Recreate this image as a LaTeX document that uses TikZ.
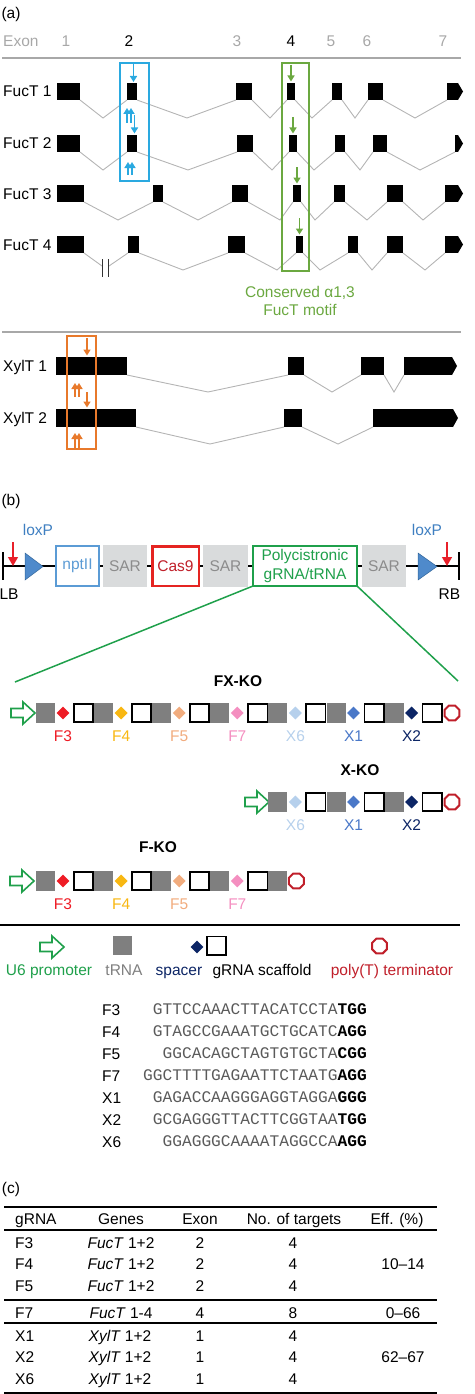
\documentclass[tikz,border=0pt]{standalone}
\usepackage{fontspec}
\setmainfont{Liberation Sans}
\setmonofont{Liberation Mono}
\usetikzlibrary{shapes.geometric,arrows.meta,calc}
\definecolor{cblue}{HTML}{2AA9E0}
\definecolor{cgreen}{HTML}{6BA840}
\definecolor{corange}{HTML}{E8792B}
\definecolor{intr}{HTML}{B4B4B4}
\definecolor{sepg}{HTML}{A8A8A8}
\definecolor{exg}{HTML}{A8A8A8}
\definecolor{lox}{HTML}{3F7FC1}
\definecolor{loxfill}{HTML}{4F8ACB}
\definecolor{npt}{HTML}{5B9BD5}
\definecolor{casr}{HTML}{E52421}
\definecolor{castext}{HTML}{C0202A}
\definecolor{pgreen}{HTML}{1FA04B}
\definecolor{sarg}{HTML}{D9DBDC}
\definecolor{sart}{HTML}{8C8C8C}
\definecolor{trnag}{HTML}{7F7F7F}
\definecolor{term}{HTML}{C01F2A}
\definecolor{redarr}{HTML}{E8202A}
\definecolor{dF3}{HTML}{EE1C25}
\definecolor{dF4}{HTML}{F8B712}
\definecolor{dF5}{HTML}{F1AC7E}
\definecolor{dF7}{HTML}{F48FC0}
\definecolor{dX6}{HTML}{B6D0EC}
\definecolor{dX1}{HTML}{4A78C8}
\definecolor{dX2}{HTML}{0C2565}
\definecolor{seqg}{HTML}{5A5A5A}
\newcommand\fsz{\fontsize{15.5}{18.5}\selectfont}
\newcommand\seqf{\ttfamily\fontsize{16.2}{18}\selectfont}
\newcommand\exn[5]{\node[exonbox, minimum width={(#3-#2)*1pt}, minimum height=#5pt] (#1) at ({(#2+#3)/2},#4) {};}
\newcommand\extip[2]{\fill (#1.north east) -- ([xshift=#2pt]#1.east) -- (#1.south east) -- cycle;}
\newcommand\intr[4]{\draw[intron] (#1.south east) -- (#3,#4) -- (#2.south west);}
\newcommand\uarrow[2]{\draw[pgreen, line width=1.6pt, fill=white, line join=miter] (#1,#2-4.5) -- ++(12,0) -- ++(0,-6.5) -- ++(12,11) -- ++(-12,11) -- ++(0,-6.5) -- ++(-12,0) -- cycle;}
\newcommand\gunit[5]{%
  \node[scaf] (#1s) at ({#2+47.5},#3) {};
  \node[trnabox] (#1t) at ({#2+9.5},#3) {};
  \node[dia, fill=#4] (#1d) at ({#2+27},#3) {};
  \node[tx, text=#4] (#1l) at ({#2+27},#3+23) {#5};}
\begin{document}
\begin{tikzpicture}[x=1pt,y=-1pt,font=\fsz,
  tx/.style={inner sep=0pt, anchor=base, yshift=-5.5pt},
  txw/.style={tx, anchor=base west},
  exonbox/.style={fill=black, inner sep=0pt, outer sep=0pt},
  intron/.style={draw=intr, line width=0.9pt},
  sepline/.style={draw=sepg, line width=1.5pt},
  sarr/.style={line width=1.8pt, -{Triangle[length=6pt,width=7pt]}},
  bbox/.style={inner sep=0pt, outer sep=0pt, minimum height=40pt, align=center},
  trnabox/.style={fill=trnag, minimum width=19pt, minimum height=20pt, inner sep=0pt, outer sep=0pt},
  scaf/.style={draw=black, line width=1.8pt, fill=white, minimum width=19.2pt, minimum height=18.2pt, inner sep=0pt, outer sep=0pt},
  dia/.style={diamond, inner sep=0pt, minimum width=13pt, minimum height=13pt},
  termo/.style={regular polygon, regular polygon sides=8, draw=term, line width=2pt, fill=white, minimum size=16.2pt, inner sep=0pt},
  seq/.style={inner sep=0pt, anchor=base east, yshift=-4.6pt, font=\seqf, text=seqg},
  rule/.style={line width=1.6pt}]
\useasboundingbox (0,0) rectangle (474,1394);

%% ---------------- (a)
\node[tx] (pa) at (11,13) {(a)};
\node[txw, text=exg] (exh) at (3,41) {Exon};
\foreach \x/\n/\c in {66/1/exg,129/2/black,237/3/exg,291/4/black,331/5/exg,367/6/exg,443/7/exg}
  \node[tx, text=\c] (en\n) at (\x,41) {\n};
\coordinate (s1a) at (2,58); \coordinate (s1b) at (461,58);
\draw[sepline] (s1a) -- (s1b);

% FucT 1
\node[txw] (lf1) at (3,91.5) {FucT 1};
\exn{A1}{57}{80}{91.5}{17}\exn{A2}{127}{137}{91.5}{17}\exn{A3}{236}{252}{91.5}{17}
\exn{A4}{287}{295}{91.5}{17}\exn{A5}{332}{342}{91.5}{17}\exn{A6}{368}{383}{91.5}{17}
\exn{A7}{447}{458}{91.5}{17}\extip{A7}{5}
\intr{A1}{A2}{103}{118}\intr{A2}{A3}{187}{118}\intr{A3}{A4}{270}{118}
\intr{A4}{A5}{312}{118}\intr{A5}{A6}{355}{118}\intr{A6}{A7}{415}{118}
% FucT 2
\node[txw] (lf2) at (3,143.5) {FucT 2};
\exn{B1}{57}{80}{143.5}{17}\exn{B2}{127}{137}{143.5}{17}\exn{B3}{237}{253}{143.5}{17}
\exn{B4}{289}{297}{143.5}{17}\exn{B5}{335}{345}{143.5}{17}\exn{B6}{373}{387}{143.5}{17}
\exn{B7}{455}{458}{143.5}{17}\extip{B7}{5}
\intr{B1}{B2}{103}{170}\intr{B2}{B3}{188}{170}\intr{B3}{B4}{272}{170}
\intr{B4}{B5}{314}{170}\intr{B5}{B6}{360}{170}\intr{B6}{B7}{420}{170}
% FucT 3
\node[txw] (lf3) at (3,193.5) {FucT 3};
\exn{C1}{57}{84}{193.5}{17}\exn{C2}{153}{163}{193.5}{17}\exn{C3}{232}{248}{193.5}{17}
\exn{C4}{293}{301}{193.5}{17}\exn{C5}{334}{345}{193.5}{17}\exn{C6}{387}{403}{193.5}{17}
\exn{C7}{445}{458}{193.5}{17}\extip{C7}{5}
\intr{C1}{C2}{118}{220}\intr{C2}{C3}{198}{220}\intr{C3}{C4}{280}{220}
\intr{C4}{C5}{315}{220}\intr{C5}{C6}{367}{220}\intr{C6}{C7}{423}{220}
% FucT 4
\node[txw] (lf4) at (3,244.5) {FucT 4};
\exn{D1}{57}{84}{244.5}{17}\exn{D2}{128}{139}{244.5}{17}\exn{D3}{228}{245}{244.5}{17}
\exn{D4}{296}{303}{244.5}{17}\exn{D5}{348}{358}{244.5}{17}\exn{D6}{387}{403}{244.5}{17}
\exn{D7}{445}{458}{244.5}{17}\extip{D7}{5}
\coordinate (brk1) at (102,266); \coordinate (brk2) at (109,266);
\draw[intron] (D1.south east) -- (brk1);
\draw[intron] (brk2) -- (D2.south west);
\draw[black!80, line width=0.9pt] (102.5,259) -- (102.5,277) (108.5,259) -- (108.5,277);
\intr{D2}{D3}{183}{270}\intr{D3}{D4}{277}{270}
\intr{D4}{D5}{320}{270}\intr{D5}{D6}{372}{270}\intr{D6}{D7}{425}{270}

% boxes
\draw[cblue, line width=1.6pt] (120,63) rectangle (149,181);
\draw[cgreen, line width=1.6pt] (282,63) rectangle (309,271);
% blue arrows
\draw[sarr, cblue] ([xshift=1.5pt,yshift=19pt]A2.north) -- ([xshift=1.5pt,yshift=1pt]A2.north);
\foreach \dx in {-5,-1}
  \draw[sarr, cblue] ([xshift=\dx pt,yshift=-23pt]A2.south) -- ([xshift=\dx pt,yshift=-8pt]A2.south);
\draw[sarr, cblue] ([xshift=2.5pt,yshift=20pt]B2.north) -- ([xshift=2.5pt,yshift=1.5pt]B2.north);
\foreach \dx in {-4,0}
  \draw[sarr, cblue] ([xshift=\dx pt,yshift=-23pt]B2.south) -- ([xshift=\dx pt,yshift=-10pt]B2.south);
% green arrows
\foreach \e in {A4,B4,C4,D4}
  \draw[sarr, cgreen] ([yshift=18pt]\e.north) -- ([yshift=1.5pt]\e.north);
\node[tx, text=cgreen] (cons1) at (300,292) {Conserved α1,3};
\node[tx, text=cgreen] (cons2) at (300,310) {FucT motif};

\coordinate (s2a) at (2,332); \coordinate (s2b) at (461,332);
\draw[sepline] (s2a) -- (s2b);

% XylT 1
\node[txw] (lx1) at (3,366) {XylT 1};
\exn{X1}{56}{127}{366}{18}\exn{X2}{288}{304}{366}{18}\exn{X3}{361}{384}{366}{18}
\exn{X4}{404}{452}{366}{18}\extip{X4}{5}
\intr{X1}{X2}{208}{392}\intr{X2}{X3}{332}{392}\intr{X3}{X4}{394}{392}
% XylT 2
\node[txw] (lx2) at (3,418) {XylT 2};
\exn{Y1}{56}{136}{418}{18}\exn{Y2}{284}{302}{418}{18}
\exn{Y3}{373}{453}{418}{18}\extip{Y3}{5}
\intr{Y1}{Y2}{210}{444}\intr{Y2}{Y3}{338}{444}
% orange
\draw[corange, line width=1.6pt] (67,336) rectangle (96,449);
\draw[sarr, corange] ([xshift=-4.5pt,yshift=19pt]X1.north) -- ([xshift=-4.5pt,yshift=1.5pt]X1.north);
\foreach \dx in {-16.5,-12.5}
  \draw[sarr, corange] ([xshift=\dx pt,yshift=-22pt]X1.south) -- ([xshift=\dx pt,yshift=-8pt]X1.south);
\draw[sarr, corange] ([xshift=-9pt,yshift=17pt]Y1.north) -- ([xshift=-9pt,yshift=1.5pt]Y1.north);
\foreach \dx in {-21,-17}
  \draw[sarr, corange] ([xshift=\dx pt,yshift=-21pt]Y1.south) -- ([xshift=\dx pt,yshift=-6pt]Y1.south);

%% ---------------- (b)
\node[tx] (pb) at (11,500) {(b)};
\coordinate (lbc) at (3,566); \coordinate (rbc) at (459,566);
\draw[line width=1.6pt] (lbc) -- (rbc);
\draw[line width=2.5pt] (3,552) -- (3,580) (459,552) -- (459,580);
\node[tx] (lbt) at (9,594) {LB};
\node[tx] (rbt) at (449.5,594) {RB};
\fill[loxfill, draw=lox!80!black, line width=0.5pt] (25,553) -- (25,580) -- (43,566.5) -- cycle;
\fill[loxfill, draw=lox!80!black, line width=0.5pt] (418,553) -- (418,580) -- (437,566.5) -- cycle;
\node[tx, text=lox] (lox1) at (38,530) {loxP};
\node[tx, text=lox] (lox2) at (427,530) {loxP};
\coordinate (ra1) at (13,542); \coordinate (ra2) at (447,542);
\draw[redarr, line width=1.3pt, -{Triangle[length=9pt,width=10pt]}] (ra1) -- (lbc -| ra1);
\draw[redarr, line width=1.3pt, -{Triangle[length=9pt,width=10pt]}] (ra2) -- (lbc -| ra2);
\node[bbox, draw=npt, line width=2pt, fill=white, minimum width=43pt, text=npt] (npt) at (77.5,566) {nptII};
\node[bbox, fill=sarg, minimum width=44pt, minimum height=42pt, text=sart] (sar1) at (125,566) {SAR};
\node[bbox, draw=casr, line width=2.5pt, fill=white, minimum width=46.5pt, minimum height=39.5pt, text=castext] (cas) at (175.5,566) {Cas9};
\node[bbox, fill=sarg, minimum width=45pt, minimum height=42pt, text=sart] (sar2) at (225.5,566) {SAR};
\node[bbox, draw=pgreen, line width=2pt, fill=white, minimum width=104pt, text=pgreen] (poly) at (305,566) {Polycistronic\\gRNA/tRNA};
\node[bbox, fill=sarg, minimum width=44pt, minimum height=42pt, text=sart] (sar3) at (384,566) {SAR};
\coordinate (zl) at (15,682); \coordinate (zr) at (458,681);
\draw[pgreen, line width=1.5pt] (poly.south west) -- (zl);
\draw[pgreen, line width=1.5pt] (poly.south east) -- (zr);

% FX-KO
\node[tx, font=\fsz\bfseries] (tfx) at (238,681) {FX-KO};
\uarrow{11}{713}
\foreach \k/\c/\l in {0/dF3/F3,1/dF4/F4,2/dF5/F5,3/dF7/F7,4/dX6/X6,5/dX1/X1,6/dX2/X2}
  {\gunit{fx\k}{36+58.1*\k}{713}{\c}{\l}}
\node[termo] (fxt) at (452,713) {};
% X-KO
\node[tx, font=\fsz\bfseries] (txk) at (360,770) {X-KO};
\uarrow{245}{802}
\foreach \k/\c/\l in {4/dX6/X6,5/dX1/X1,6/dX2/X2}
  {\gunit{xk\k}{36+58.1*\k}{802}{\c}{\l}}
\node[termo] (xkt) at (452,802) {};
% F-KO
\node[tx, font=\fsz\bfseries] (tfk) at (158,847) {F-KO};
\uarrow{10}{881}
\foreach \k/\c/\l in {0/dF3/F3,1/dF4/F4,2/dF5/F5,3/dF7/F7}
  {\gunit{fk\k}{36+58.1*\k}{881}{\c}{\l}}
\node[trnabox] (fkg) at (277.9,881) {};
\node[termo] (fkt) at (296.4,881) {};

\coordinate (bl1) at (0,925); \coordinate (bl2) at (460,925);
\draw[line width=1.8pt] (bl1) -- (bl2);

% legend
\uarrow{40}{947}
\node[trnabox, minimum height=19pt] (lgt) at (122.5,945.5) {};
\node[dia, fill=dX2] (lgd) at (197,947) {};
\node[scaf] (lgs) at (216.5,945.5) {};
\node[termo] (lgo) at (379.5,946) {};
\node[tx, text=pgreen] (lt1) at (49,970) {U6 promoter};
\node[tx, text=trnag] (lt2) at (124,970) {tRNA};
\node[tx, text=dX2] (lt3) at (179,970) {spacer};
\node[tx] (lt4) at (262,970) {gRNA scaffold};
\node[tx, text=term] (lt5) at (392,970) {poly(T) terminator};

% sequences
\foreach \n/\s/\p [count=\i from 0] in {F3/GTTCCAAACTTACATCCTA/TGG,F4/GTAGCCGAAATGCTGCATC/AGG,F5/GGCACAGCTAGTGTGCTA/CGG,F7/GGCTTTTGAGAATTCTAATG/AGG,X1/GAGACCAAGGGAGGTAGGA/GGG,X2/GCGAGGGTTACTTCGGTAA/TGG,X6/GGAGGGCAAAATAGGCCA/AGG}
  {\node[txw] (sl\n) at (102,1010+22*\i) {\n};
   \node[seq] (sq\n) at (367,1010+22*\i) {\s\textbf{\color{black}\p}};}

%% ---------------- (c)
\node[tx] (pc) at (11,1188) {(c)};
\draw[line width=2pt] (4,1207) -- (437,1207);
\draw[rule] (4,1230) -- (437,1230);
\draw[rule] (4,1300) -- (437,1300);
\draw[rule] (4,1323) -- (437,1323);
\draw[line width=2pt] (4,1392.5) -- (437,1392.5);
\node[txw] (h1) at (15,1219) {gRNA};
\node[tx] (h2) at (121,1219) {Genes};
\node[tx] (h3) at (200,1219) {Exon};
\node[tx] (h4) at (294,1219) {No. of targets};
\node[tx] (h5) at (397,1219) {Eff. (\%)};
\foreach \g/\y/\gn/\ex/\nt in {F3/1243/FucT 1+2/2/4,F4/1264/FucT 1+2/2/4,F5/1286/FucT 1+2/2/4,F7/1313/FucT 1-4/4/8,X1/1336/XylT 1+2/1/4,X2/1357/XylT 1+2/1/4,X6/1379/XylT 1+2/1/4}
  {\node[txw] (r\g a) at (15,\y) {\g};
   \node[tx] (r\g e) at (200,\y) {\ex};
   \node[tx] (r\g n) at (293,\y) {\nt};}
\node[tx] (rF3g) at (121,1243) {\textit{FucT} 1+2};
\node[tx] (rF4g) at (121,1264) {\textit{FucT} 1+2};
\node[tx] (rF5g) at (121,1286) {\textit{FucT} 1+2};
\node[tx] (rF7g) at (121,1313) {\textit{FucT} 1-4};
\node[tx] (rX1g) at (120,1336) {\textit{XylT} 1+2};
\node[tx] (rX2g) at (120,1357) {\textit{XylT} 1+2};
\node[tx] (rX6g) at (120,1379) {\textit{XylT} 1+2};
\node[tx] (ef1) at (403,1264) {10–14};
\node[tx] (ef2) at (403,1313) {0–66};
\node[tx] (ef3) at (403,1357) {62–67};
\end{tikzpicture}
\end{document}
